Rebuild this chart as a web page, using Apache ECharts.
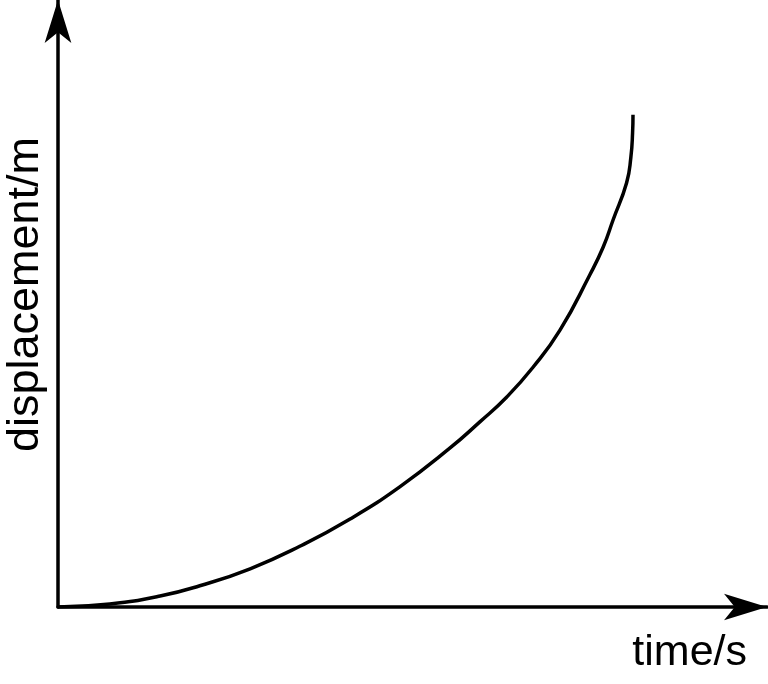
<!DOCTYPE html>
<html>
<head>
<meta charset="utf-8">
<script src="https://cdn.jsdelivr.net/npm/echarts@6/dist/echarts.min.js"></script>
<style>
html,body{margin:0;padding:0;background:#fff;}
#chart{width:768px;height:684px;}
</style>
</head>
<body>
<div id="chart"></div>
<script>
const xAxisName = 'time/s';
const yAxisName = 'displacement/m';
const timeValues = [0, 0.73, 1.44, 2.00, 2.71, 3.41, 4.12, 4.82, 5.53, 5.95, 6.33, 6.70, 7.08, 7.50, 7.69, 7.83, 8.02, 8.08, 8.104, 8.11];
const displacementValues = [0, 0.05, 0.18, 0.35, 0.63, 1.00, 1.45, 1.98, 2.62, 3.05, 3.46, 3.95, 4.56, 5.47, 5.93, 6.38, 6.99, 7.41, 7.81, 8.11];

const seriesData = timeValues.map((t, i) => [t, displacementValues[i]]);

const chart = echarts.init(document.getElementById('chart'));
const axisLine = {
  show: true,
  symbol: ['none', 'arrow'],
  symbolSize: [20, 43],
  lineStyle: { color: '#000', width: 3.5 }
};
chart.setOption({
  animation: false,
  backgroundColor: '#fff',
  grid: { left: 58, right: 1, top: 0, bottom: 77, containLabel: false, outerBoundsMode: 'none' },
  xAxis: {
    type: 'value', min: 0, max: 10,
    name: xAxisName,
    nameLocation: 'end',
    nameGap: -20,
    nameTextStyle: { fontFamily: 'Liberation Sans', fontSize: 43, color: '#000', align: 'right', verticalAlign: 'top', padding: [25, 0, 0, 0] },
    axisLine: axisLine,
    axisTick: { show: false }, axisLabel: { show: false }, splitLine: { show: false }
  },
  yAxis: {
    type: 'value', min: 0, max: 10,
    name: yAxisName,
    nameLocation: 'middle',
    nameRotate: 90,
    nameGap: 10,
    nameTextStyle: { fontFamily: 'Liberation Sans', fontSize: 45, color: '#000', padding: [0, 0, 0, 18] },
    axisLine: axisLine,
    axisTick: { show: false }, axisLabel: { show: false }, splitLine: { show: false }
  },
  series: [{
    type: 'line',
    data: seriesData,
    smooth: 0.5,
    showSymbol: false,
    lineStyle: { color: '#000', width: 3.5 }
  }]
});
</script>
</body>
</html>
